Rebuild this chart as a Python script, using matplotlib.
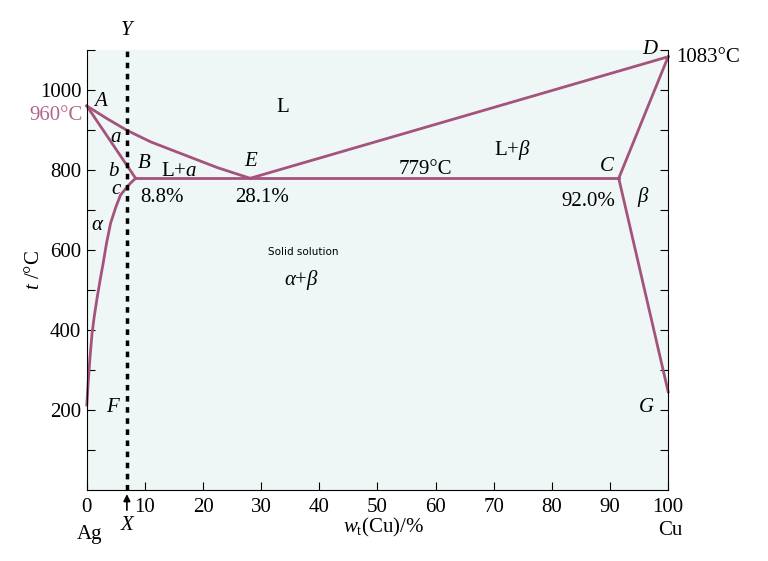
import matplotlib.pyplot as plt

plt.rcParams['font.family'] = ['Liberation Serif', 'DejaVu Serif']
plt.rcParams['mathtext.fontset'] = 'custom'
plt.rcParams['mathtext.rm'] = 'Liberation Serif'
plt.rcParams['mathtext.it'] = 'Liberation Serif:italic'

# phase boundaries, wt% Cu vs temperature (°C)
liq_left_x = [0, 3.5, 6.9, 11, 16.7, 22.4, 28.1]
liq_left_t = [960, 928, 899, 870, 838, 806, 779]
sol_left_x = [0, 8.4]
sol_left_t = [960, 779]
solvus_left_x = [8.4, 7.6, 6.9, 5.8, 5.0, 4.1, 3.4, 2.8, 2.3, 1.8, 1.3, 0.9, 0.55, 0.25, 0]
solvus_left_t = [779, 768, 757, 737, 707, 667, 617, 565, 525, 482, 435, 390, 330, 270, 212]
eutectic_x = [8.4, 91.5]
eutectic_t = [779, 779]
liq_right_x = [28.1, 100]
liq_right_t = [779, 1083]
sol_right_x = [91.5, 100]
sol_right_t = [779, 1083]
solvus_right_x = [91.5, 100]
solvus_right_t = [779, 245]
alloy_x = 6.9

line_c = '#a4537c'
fs = 15

fig = plt.figure(figsize=(7.68, 5.61), dpi=100)
ax = fig.add_axes([0.113, 0.127, 0.757, 0.784])
ax.set_facecolor('#eef7f6')

for xs, ts in [(liq_left_x, liq_left_t), (sol_left_x, sol_left_t),
               (solvus_left_x, solvus_left_t), (eutectic_x, eutectic_t),
               (liq_right_x, liq_right_t), (sol_right_x, sol_right_t),
               (solvus_right_x, solvus_right_t)]:
    ax.plot(xs, ts, color=line_c, lw=2.0, solid_joinstyle='round', clip_on=False)

ax.plot([alloy_x, alloy_x], [0, 1100], color='black', lw=2.5,
        linestyle=(0, (1.6, 1.6)), clip_on=False)

ax.set_xlim(0, 100)
ax.set_ylim(0, 1100)
ax.spines['top'].set_visible(False)
ax.set_xticks(range(0, 101, 10))
ax.set_yticks(range(100, 1101, 100))
ax.set_yticklabels(['' if (v % 200 or v == 1100) else str(v) for v in range(100, 1101, 100)])
ax.tick_params(direction='in', length=6, labelsize=fs, right=True, pad=6)
ax.tick_params(axis='y', pad=4)
ax.set_ylabel('$t$ /°C', fontsize=fs, labelpad=-3)

# labels
kw = dict(fontsize=fs, ha='center', va='center', clip_on=False)
it = dict(kw, style='italic')
ax.text(alloy_x, 1148, 'Y', **it)
ax.text(2.4, 972, 'A', **it)
ax.text(-0.7, 937, '960°C', fontsize=fs, ha='right', va='center', color='#b4638a')
ax.text(5.0, 882, 'a', **it)
ax.text(4.6, 797, 'b', **it)
ax.text(9.8, 817, 'B', **it)
ax.text(15.8, 797, 'L+$a$', **kw)
ax.text(5.0, 750, 'c', **it)
ax.text(13.0, 730, '8.8%', **kw)
ax.text(1.9, 660, r'$\alpha$', **kw)
ax.text(28.2, 822, 'E', **it)
ax.text(30.2, 730, '28.1%', **kw)
ax.text(33.7, 955, 'L', **kw)
ax.text(58.2, 800, '779°C', **kw)
ax.text(73.3, 850, r'L+$\beta$', **kw)
ax.text(89.5, 808, 'C', **it)
ax.text(86.2, 722, '92.0%', **kw)
ax.text(95.8, 732, r'$\beta$', **kw)
ax.text(37.3, 595, 'Solid solution', fontsize=7.5, ha='center', va='center',
        family='DejaVu Sans')
ax.text(37.0, 525, r'$\alpha$+$\beta$', **kw)
ax.text(4.4, 205, 'F', **it)
ax.text(96.2, 205, 'G', **it)
ax.text(96.8, 1100, 'D', **it)
ax.text(101.3, 1080, '1083°C', fontsize=fs, ha='left', va='center', clip_on=False)
ax.text(0.5, -112, 'Ag', **kw)
ax.text(100.3, -102, 'Cu', **kw)
ax.text(alloy_x, -90, 'X', **it)
ax.text(51, -95, '$w_\\mathrm{t}$(Cu)/%', **kw)
ax.annotate('', xy=(alloy_x, -4), xytext=(alloy_x, -58),
            arrowprops=dict(arrowstyle='-|>', color='black', lw=1.2, mutation_scale=10),
            annotation_clip=False)

fig.savefig('out.png', dpi=100)
